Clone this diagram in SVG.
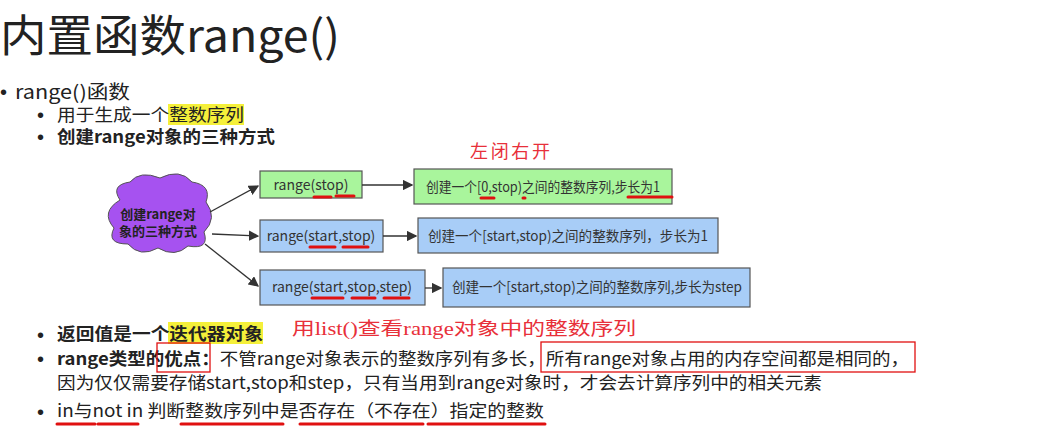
<svg xmlns="http://www.w3.org/2000/svg" width="1050" height="445" viewBox="0 0 1050 445">
<style>
text{font-family:"Noto Sans CJK SC","Liberation Sans",sans-serif;fill:#222}
.b{font-size:17px}.bd{font-weight:bold}
.dot{font-size:20px;font-family:"Liberation Sans",sans-serif}
.red{fill:#e8303a;font-family:"Liberation Serif","Noto Sans CJK SC",serif;font-size:18px}
.box{stroke:#555;stroke-width:1.2}
.g{fill:#a9f59c}.bl{fill:#a8cdf7}
.nt{font-size:14px;fill:#333}
.ul{stroke:#e01010;stroke-width:3;stroke-linecap:round;fill:none}
.cn{stroke:#333;stroke-width:1.3;fill:none;marker-end:url(#a)}
</style>
<defs><marker id="a" markerWidth="8" markerHeight="8" refX="7" refY="4" orient="auto"><path d="M0,0 L8,4 L0,8 z" fill="#333"/></marker></defs>
<rect width="1050" height="445" fill="#fff"/>
<text x="0" y="52" font-size="44" textLength="340" lengthAdjust="spacingAndGlyphs">内置函数range()</text>
<text x="0" y="99" class="dot">•</text><text x="15" y="99" font-size="19" textLength="115" lengthAdjust="spacingAndGlyphs">range()函数</text>
<rect x="168" y="104" width="76" height="21" fill="#f5f03a"/>
<text x="37" y="122" class="dot">•</text><text x="57" y="121" class="b" textLength="187" lengthAdjust="spacingAndGlyphs">用于生成一个整数序列</text>
<text x="37" y="144" class="dot">•</text><text x="57" y="143" class="b bd" textLength="218" lengthAdjust="spacingAndGlyphs">创建range对象的三种方式</text>
<text x="470" y="158" class="red" textLength="80">左闭右开</text>
<g id="cloud"><path d="M120,200 Q110,185 130,182 Q140,170 160,178 Q180,168 192,182 Q212,185 206,202 Q218,218 204,232 Q210,250 188,246 Q175,258 158,248 Q140,258 128,244 Q106,244 114,228 Q100,212 120,200 z" fill="#a652f0" stroke="#555"/>
<text x="158" y="219" text-anchor="middle" font-size="13" font-weight="bold" fill="#222">创建range对</text><text x="158" y="236" text-anchor="middle" font-size="13" font-weight="bold" fill="#222">象的三种方式</text></g>
<g id="n1"><rect x="260" y="171" width="102" height="27" class="box g"/><text x="311" y="190" text-anchor="middle" class="nt">range(stop)</text></g>
<g id="r1"><rect x="414" y="169" width="258" height="35" class="box g"/><text x="426" y="192" class="nt" textLength="234" lengthAdjust="spacingAndGlyphs">创建一个[0,stop)之间的整数序列,步长为1</text></g>
<g id="n2"><rect x="260" y="220" width="123" height="32" class="box bl"/><text x="321" y="241" text-anchor="middle" class="nt">range(start,stop)</text></g>
<g id="r2"><rect x="418" y="218" width="300" height="35" class="box bl"/><text x="428" y="241" class="nt" textLength="280" lengthAdjust="spacingAndGlyphs">创建一个[start,stop)之间的整数序列，步长为1</text></g>
<g id="n3"><rect x="260" y="270" width="165" height="35" class="box bl"/><text x="342" y="292" text-anchor="middle" class="nt">range(start,stop,step)</text></g>
<g id="r3"><rect x="443" y="268" width="307" height="39" class="box bl"/><text x="452" y="292" class="nt" textLength="290" lengthAdjust="spacingAndGlyphs">创建一个[start,stop)之间的整数序列,步长为step</text></g>
<g id="connectors">
<path class="cn" d="M210,212 L258,186"/><path class="cn" d="M212,234 L258,236"/><path class="cn" d="M205,244 L258,286"/>
<path class="cn" d="M362,185 L412,185"/><path class="cn" d="M383,236 L416,236"/><path class="cn" d="M425,288 L441,288"/>
</g>
<g id="marks">
<path class="ul" d="M314,197 L331,197 M336,196 L354,196 M481,198 L494,198 M523,198 L525,198 M628,197 L672,197 M310,247 L335,247 M343,247 L368,247 M312,298 L343,298 M352,298 L375,298 M384,298 L409,298"/>
</g>
<rect x="168" y="322" width="95" height="22" fill="#f5f03a"/>
<text x="37" y="342" class="dot">•</text><text x="57" y="340" class="b bd" textLength="206" lengthAdjust="spacingAndGlyphs">返回值是一个迭代器对象</text>
<text x="292" y="335" class="red" textLength="344" lengthAdjust="spacingAndGlyphs">用list()查看range对象中的整数序列</text>
<text x="37" y="366" class="dot">•</text><text x="57" y="365" class="b" textLength="852" lengthAdjust="spacingAndGlyphs"><tspan font-weight="bold">range类型的优点：</tspan>不管range对象表示的整数序列有多长，所有range对象占用的内存空间都是相同的，</text>
<text x="57" y="389" class="b" textLength="765" lengthAdjust="spacingAndGlyphs">因为仅仅需要存储start,stop和step，只有当用到range对象时，才会去计算序列中的相关元素</text>
<rect x="157" y="343" width="53" height="29" fill="none" stroke="#e01010" stroke-width="1.3"/>
<rect x="541" y="342" width="374" height="30" fill="none" stroke="#e01010" stroke-width="1.3"/>
<text x="37" y="419" class="dot">•</text><text x="57" y="417" class="b" textLength="487" lengthAdjust="spacingAndGlyphs">in与not in 判断整数序列中是否存在（不存在）指定的整数</text>
<path class="ul" d="M57,424 L95,424 M98,424 L138,424 M181,424 L283,424 M300,424 L423,424 M428,424 L545,424"/>
</svg>
